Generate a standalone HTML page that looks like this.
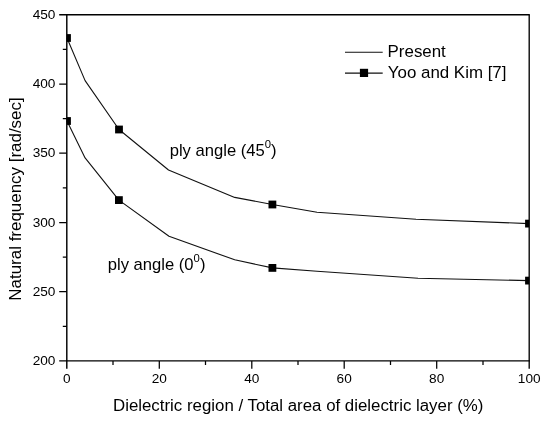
<!DOCTYPE html>
<html><head><meta charset="utf-8"><title>Natural frequency chart</title>
<style>html,body{margin:0;padding:0;background:#fff}</style></head>
<body>
<svg width="550" height="422" viewBox="0 0 550 422" style="display:block;font-family:'Liberation Sans',Arial,sans-serif" fill="#000">
<rect width="550" height="422" fill="#fff"/>
<polyline fill="none" stroke="#111" stroke-width="1.1" stroke-linejoin="round" points="67.0,38.0 85.1,80.6 119.0,129.5 168.5,170.0 234.7,197.4 272.4,204.5 317.0,212.3 416.0,219.3 529.0,223.6"/>
<polyline fill="none" stroke="#111" stroke-width="1.1" stroke-linejoin="round" points="67.0,121.0 85.1,157.9 118.9,200.1 169.0,236.3 234.7,259.8 272.4,267.9 317.0,271.2 418.0,278.3 529.0,280.6"/>
<clipPath id="cp"><rect x="66.8" y="14.8" width="462.4" height="346.1"/></clipPath>
<g clip-path="url(#cp)">
<rect x="63.1" y="34.1" width="7.8" height="7.8"/>
<rect x="115.1" y="125.6" width="7.8" height="7.8"/>
<rect x="268.5" y="200.6" width="7.8" height="7.8"/>
<rect x="525.1" y="219.7" width="7.8" height="7.8"/>
<rect x="63.1" y="117.1" width="7.8" height="7.8"/>
<rect x="115.0" y="196.2" width="7.8" height="7.8"/>
<rect x="268.5" y="264.0" width="7.8" height="7.8"/>
<rect x="525.1" y="276.7" width="7.8" height="7.8"/>
</g>
<g stroke="#000" fill="none">
<path stroke-width="1.6" d="M59.2 14.8H529.8"/>
<path stroke-width="1.45" d="M66.8 14.0V368.7"/>
<path stroke-width="1.3" d="M59.2 360.9H529.8"/>
<path stroke-width="1.35" d="M529.2 14.8V368.7"/>
<path stroke-width="1.25" d="M59.2 291.7H66.8 M59.2 222.5H66.8 M59.2 153.2H66.8 M59.2 84.0H66.8 M62.8 326.3H66.8 M62.8 257.1H66.8 M62.8 187.8H66.8 M62.8 118.6H66.8 M62.8 49.4H66.8 M159.3 360.9V368.7 M251.8 360.9V368.7 M344.2 360.9V368.7 M436.7 360.9V368.7 M113.0 360.9V364.9 M205.5 360.9V364.9 M298.0 360.9V364.9 M390.5 360.9V364.9 M483.0 360.9V364.9"/>
</g>
<g font-size="13.65">
<text x="55.4" y="365.0" text-anchor="end">200</text>
<text x="55.4" y="295.8" text-anchor="end">250</text>
<text x="55.4" y="226.6" text-anchor="end">300</text>
<text x="55.4" y="157.3" text-anchor="end">350</text>
<text x="55.4" y="88.1" text-anchor="end">400</text>
<text x="55.4" y="18.9" text-anchor="end">450</text>
<text x="66.8" y="382.5" text-anchor="middle">0</text>
<text x="159.3" y="382.5" text-anchor="middle">20</text>
<text x="251.8" y="382.5" text-anchor="middle">40</text>
<text x="344.2" y="382.5" text-anchor="middle">60</text>
<text x="436.7" y="382.5" text-anchor="middle">80</text>
<text x="529.2" y="382.5" text-anchor="middle">100</text>
</g>
<g font-size="16.85">
<text x="298.2" y="410.7" text-anchor="middle">Dielectric region / Total area of dielectric layer (%)</text>
<text transform="translate(20.8 199) rotate(-90)" font-size="16.95" text-anchor="middle">Natural frequency [rad/sec]</text>
</g>
<g font-size="16.6">
<text x="387.6" y="57.4" font-size="16.9">Present</text>
<text x="387.8" y="78.2" font-size="16.9">Yoo and Kim [7]</text>
<text x="169.7" y="156.0">ply angle (45<tspan font-size="11.3" dy="-7.9">0</tspan><tspan dy="7.9">)</tspan></text>
<text x="107.8" y="270.2">ply angle (0<tspan font-size="11.3" dy="-7.9">0</tspan><tspan dy="7.9">)</tspan></text>
</g>
<path stroke="#111" stroke-width="1.1" d="M345 52.3H382.7 M345 73.1H382.7"/>
<rect x="359.9" y="68.8" width="8.2" height="8.2"/>
</svg>
</body></html>
